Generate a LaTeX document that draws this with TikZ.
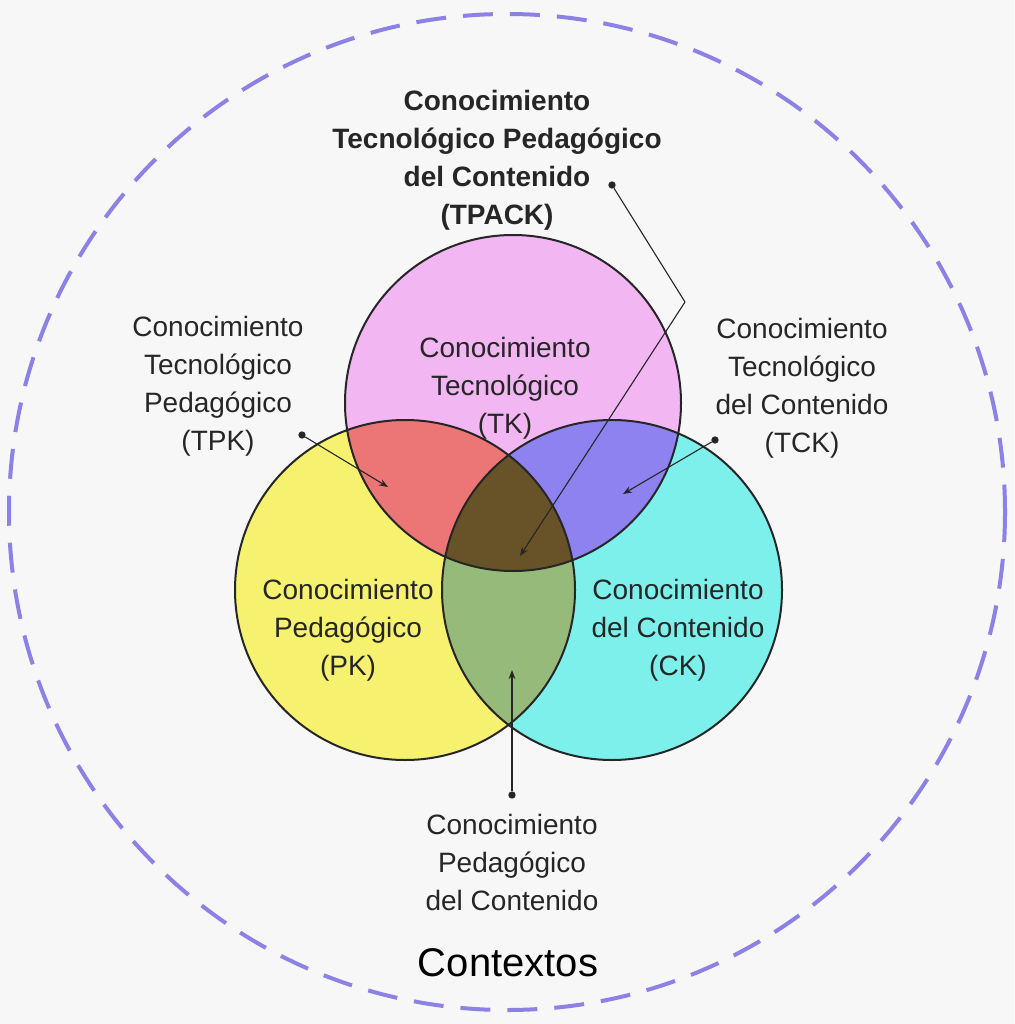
\documentclass[tikz,border=0pt]{standalone}
\usepackage{fontspec}
\setmainfont{Liberation Sans}
\usetikzlibrary{arrows.meta}
\begin{document}
\begin{tikzpicture}[x=1pt,y=-1pt,
 lbl/.style={align=center,font=\fontsize{28}{38}\selectfont,text=black!85},
 ptr/.style={draw=black!85,line width=1.1pt,-{Stealth[length=9pt]}},
 dot/.style={circle,fill=black!85,inner sep=2.6pt}]
\useasboundingbox (0,0) rectangle (1014,1024);
\fill[gray!6] (0,0) rectangle (1014,1024);
\definecolor{tk}{RGB}{242,182,242}
\definecolor{pk}{RGB}{246,242,112}
\definecolor{ck}{RGB}{126,240,236}
\definecolor{tp}{RGB}{236,118,118}
\definecolor{tc}{RGB}{142,130,240}
\definecolor{pc}{RGB}{150,186,122}
\definecolor{all}{RGB}{104,82,40}
\definecolor{ctx}{RGB}{140,130,230}
\draw[ctx,line width=4pt,dash pattern=on 30pt off 17pt] (507,512) circle (498);
\coordinate (T) at (513,403);
\coordinate (P) at (405,590);
\coordinate (C) at (612,590);
\fill[tk] (T) circle (168);
\fill[pk] (P) circle (170);
\fill[ck] (C) circle (170);
\begin{scope}\clip (T) circle (168); \fill[tp] (P) circle (170); \fill[tc] (C) circle (170);\end{scope}
\begin{scope}\clip (P) circle (170); \fill[pc] (C) circle (170);\end{scope}
\begin{scope}\clip (T) circle (168); \clip (P) circle (170); \fill[all] (C) circle (170);\end{scope}
\draw[black!85,line width=2pt] (T) circle (168) (P) circle (170) (C) circle (170);
\node[lbl,font=\bfseries\fontsize{28}{38}\selectfont] (tpack) at (497,160) {Conocimiento\\Tecnológico Pedagógico\\del Contenido\\(TPACK)};
\node[lbl] (tk) at (505,388) {Conocimiento\\Tecnológico\\(TK)};
\node[lbl] (tpk) at (218,386) {Conocimiento\\Tecnológico\\Pedagógico\\(TPK)};
\node[lbl] (tck) at (802,388) {Conocimiento\\Tecnológico\\del Contenido\\(TCK)};
\node[lbl] (pk) at (348,630) {Conocimiento\\Pedagógico\\(PK)};
\node[lbl] (ck) at (678,630) {Conocimiento\\del Contenido\\(CK)};
\node[lbl] (pck) at (512,862) {Conocimiento\\Pedagógico\\del Contenido};
\node[font=\fontsize{40}{46}\selectfont,text=black] (ctxl) at (508,963) {Contextos};
\node[dot] (d1) at (612,185) {};
\coordinate (b1) at (685,302);
\coordinate (e1) at (520,556);
\draw[black!85,line width=1.1pt] (d1) -- (b1);
\draw[ptr] (b1) -- (e1);
\node[dot] (d2) at (302,435) {};
\coordinate (e2) at (388,487);
\draw[ptr] (d2) -- (e2);
\node[dot] (d3) at (715,440) {};
\coordinate (e3) at (623,494);
\draw[ptr] (d3) -- (e3);
\node[dot] (d4) at (512,795) {};
\coordinate (e4) at (512,670);
\draw[ptr] (d4) -- (e4);
\end{tikzpicture}
\end{document}
